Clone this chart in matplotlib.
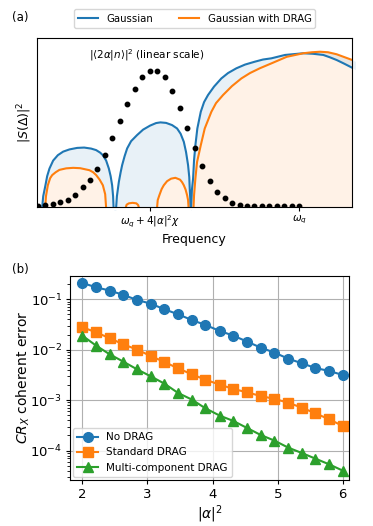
import numpy as np
import matplotlib
matplotlib.use("Agg")
import matplotlib.pyplot as plt

# ---------------- Panel (a) data (frequency in units of chi, omega_q = 0) ----------------
# Gaussian (blue) spectrum (display-normalised log scale)
blue_x = [-34.43, -34.26, -33.96, -33.73, -33.42, -32.93, -32.30, -31.59, -30.75, -29.72,
          -28.78, -27.85, -27.18, -26.64, -26.28, -25.84, -25.48, -25.24, -25.04, -24.91, -24.83,
          -24.53, -24.40, -24.14, -23.90, -23.70, -23.37, -23.03, -22.50, -21.70, -20.90,
          -19.96, -19.16, -18.58, -17.82, -17.02, -16.35, -15.88, -15.45, -15.15, -14.88,
          -14.72, -14.66, -14.59, -14.55,
          -14.48, -14.37, -14.21, -14.08, -13.90, -13.64, -13.18, -12.74, -12.21, -11.40,
          -10.43, -9.53, -8.42, -7.26, -5.96, -4.85, -3.74, -1.91, 0.53, 1.83, 3.21, 4.10,
          5.00, 5.98, 7.09, 7.58]
blue_y = [-0.021, 0.062, 0.127, 0.181, 0.226, 0.273, 0.305, 0.326, 0.339, 0.348,
          0.350, 0.344, 0.335, 0.320, 0.305, 0.273, 0.226, 0.181, 0.127, 0.062, -0.021,
          -0.021, 0.062, 0.147, 0.204, 0.246, 0.299, 0.345, 0.388, 0.424, 0.456,
          0.480, 0.495, 0.499, 0.496, 0.483, 0.463, 0.432, 0.384, 0.323, 0.246,
          0.175, 0.108, 0.050, -0.021,
          -0.021, 0.098, 0.167, 0.275, 0.364, 0.463, 0.562, 0.619, 0.661, 0.711,
          0.759, 0.791, 0.819, 0.841, 0.858, 0.871, 0.878, 0.898, 0.908, 0.905, 0.898, 0.884,
          0.868, 0.847, 0.822, 0.809]

# Gaussian with DRAG (orange) spectrum
orange_x = [-34.02, -33.89, -33.64, -33.33, -33.06, -32.59, -32.09, -31.19, -30.25, -29.32,
            -28.07, -27.58, -27.17, -26.71, -26.28, -25.97, -25.82,
            -23.33, -23.10, -22.80, -22.30, -21.80, -21.56, -21.35,
            -19.06, -18.94, -18.72, -18.42, -18.13, -17.69, -17.15, -16.58, -15.95, -15.68,
            -15.45, -15.21, -15.01, -14.88, -14.79,
            -14.17, -14.08, -13.90, -13.68, -13.18, -12.65, -11.76, -11.14, -10.20, -9.00,
            -7.75, -6.59, -5.29, -3.74, -1.68, 0.53, 1.70, 2.77, 3.84, 5.00, 5.98, 7.09, 7.58]
orange_y = [-0.021, 0.062, 0.127, 0.169, 0.187, 0.204, 0.218, 0.227, 0.230, 0.228,
            0.216, 0.204, 0.187, 0.160, 0.127, 0.074, -0.021,
            -0.021, 0.012, 0.020, 0.023, 0.020, 0.010, -0.021,
            -0.021, 0.039, 0.068, 0.104, 0.127, 0.151, 0.166, 0.171, 0.160, 0.145,
            0.127, 0.101, 0.068, 0.039, -0.021,
            -0.021, 0.068, 0.167, 0.264, 0.364, 0.463, 0.562, 0.613, 0.661, 0.714,
            0.759, 0.791, 0.819, 0.848, 0.887, 0.908, 0.914, 0.917, 0.914, 0.902, 0.886, 0.868, 0.857]

# |<2alpha|n>|^2 (linear scale), photon number n = 0..35
n_photons = list(range(36))
overlap = [0.005, 0.005, 0.005, 0.005, 0.005, 0.005, 0.005, 0.006, 0.010, 0.023,
           0.050, 0.090, 0.155, 0.242, 0.349, 0.465, 0.582, 0.686, 0.765, 0.805,
           0.805, 0.765, 0.697, 0.608, 0.505, 0.406, 0.307, 0.226, 0.161, 0.114,
           0.070, 0.042, 0.027, 0.017, 0.011, 0.006]

xtick_pos_a = [-20, 0]
xtick_labels_a = [r"$\omega_q + 4|\alpha|^2\chi$", r"$\omega_q$"]

# ---------------- Panel (b) data ----------------
alpha_sq = [2.00, 2.21, 2.42, 2.63, 2.84, 3.05, 3.26, 3.47, 3.68, 3.89,
            4.11, 4.32, 4.53, 4.74, 4.95, 5.16, 5.37, 5.58, 5.79, 6.00]
no_drag = [0.211, 0.173, 0.149, 0.122, 0.097, 0.082, 0.0634, 0.0504, 0.0389, 0.0310,
           0.0236, 0.0190, 0.0145, 0.0110, 0.00877, 0.00667, 0.00539, 0.00435, 0.00379, 0.00316]
std_drag = [0.0279, 0.0222, 0.0169, 0.0128, 0.01005, 0.00752, 0.00571, 0.00428, 0.00326, 0.00255,
            0.00203, 0.00167, 0.00143, 0.00121, 0.00106, 0.000893, 0.000711, 0.000549, 0.000418, 0.000308]
multi_drag = [0.0190, 0.0121, 0.00811, 0.00580, 0.00409, 0.00297, 0.00213, 0.00139, 0.00103, 0.000690,
              0.000494, 0.000387, 0.000281, 0.000204, 0.000158, 0.000115, 0.0000898, 0.0000693, 0.0000535, 0.0000401]

C0, C1, C2 = "#1f77b4", "#ff7f0e", "#2ca02c"
light_orange = "#fff2e7"

fig = plt.figure(figsize=(3.73, 5.26), dpi=100)

# ---------------- Panel (a) ----------------
ax = fig.add_axes([0.0984, 0.607, 0.8461, 0.3213])
bx = np.array(blue_x); by = np.array(blue_y)
ox = np.array(orange_x); oy = np.array(orange_y)
ax.fill_between(bx, by, -0.1, color=C0, alpha=0.1, linewidth=0, zorder=1)
opoly = ax.fill_between(ox, oy, -0.1, facecolor=light_orange, linewidth=0, zorder=1.5)
above = ax.fill_between(bx, by, 1.2, color=C0, alpha=0.1, linewidth=0, zorder=1.6)
above.set_clip_path(opoly.get_paths()[0], transform=ax.transData)
ax.plot(bx, by, color=C0, lw=1.5, label="Gaussian", zorder=2)
ax.plot(ox, oy, color=C1, lw=1.5, label="Gaussian with DRAG", zorder=2.1)
ax.plot(-np.array(n_photons), overlap, "o", color="black", ms=3.2, zorder=3, linestyle="none")
ax.text(-20.4, 0.897, r"$|\langle 2\alpha|n\rangle|^2$ (linear scale)", ha="center",
        va="center", fontsize=7.5)
ax.set_xlim(-35.13, 7.09)
ax.set_ylim(0, 1)
ax.set_yticks([])
ax.set_xticks(xtick_pos_a)
ax.set_xticklabels(xtick_labels_a, fontsize=7.5)
ax.tick_params(axis="x", length=3, pad=2)
ax.set_xlabel("Frequency", fontsize=9, labelpad=2)
ax.set_ylabel(r"$|S(\Delta)|^2$", fontsize=9, labelpad=2)
ax.legend(loc="lower center", bbox_to_anchor=(0.5, 1.06), ncol=2, fontsize=7.3,
          columnspacing=2.6, handlelength=2.0, borderaxespad=0, frameon=True)
fig.text(0.032, 0.967, "(a)", fontsize=8.5, va="center")

# ---------------- Panel (b) ----------------
ax2 = fig.add_axes([0.1877, 0.0875, 0.7488, 0.3884])
ax2.plot(alpha_sq, no_drag, "-o", color=C0, ms=7, lw=1.5, label="No DRAG")
ax2.plot(alpha_sq, std_drag, "-s", color=C1, ms=7, lw=1.5, label="Standard DRAG")
ax2.plot(alpha_sq, multi_drag, "-^", color=C2, ms=7, lw=1.5, label="Multi-component DRAG")
ax2.set_yscale("log")
ax2.set_xlim(1.81, 6.10)
ax2.set_ylim(2.62e-5, 0.294)
ax2.set_xticks([2, 3, 4, 5, 6])
ax2.grid(True, which="major", color="#b0b0b0", lw=0.8)
ax2.set_axisbelow(True)
ax2.tick_params(labelsize=9.5, length=3, pad=2.5)
ax2.tick_params(which="minor", length=2)
ax2.set_xlabel(r"$|\alpha|^2$", fontsize=10, labelpad=2)
ax2.set_ylabel(r"$CR_X$ coherent error", fontsize=10)
ax2.yaxis.set_label_coords(-0.135, 0.5)
ax2.legend(loc="lower left", fontsize=7.5, borderaxespad=0.3)
fig.text(0.032, 0.487, "(b)", fontsize=8.5, va="center")

fig.savefig("out.png", dpi=100)
